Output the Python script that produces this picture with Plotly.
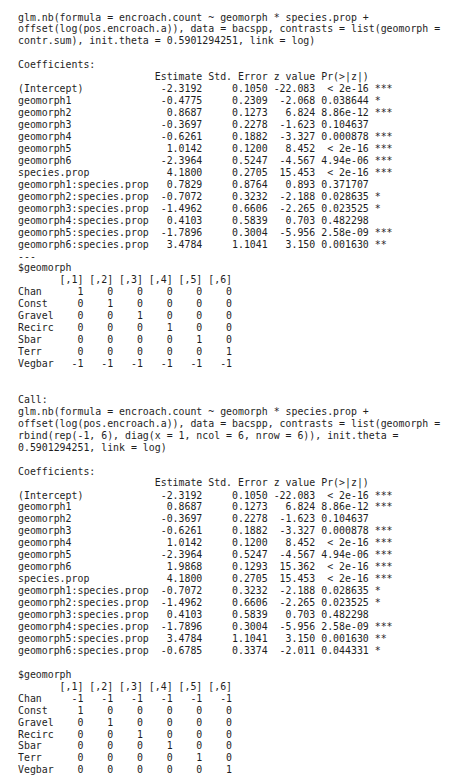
import plotly.graph_objects as go

call1 = [
    "glm.nb(formula = encroach.count ~ geomorph * species.prop +",
    "offset(log(pos.encroach.a)), data = bacspp, contrasts = list(geomorph =",
    "contr.sum), init.theta = 0.5901294251, link = log)",
]
call2 = [
    "glm.nb(formula = encroach.count ~ geomorph * species.prop +",
    "offset(log(pos.encroach.a)), data = bacspp, contrasts = list(geomorph =",
    "rbind(rep(-1, 6), diag(x = 1, ncol = 6, nrow = 6)), init.theta =",
    "0.5901294251, link = log)",
]

terms1 = ["(Intercept)", "geomorph1", "geomorph2", "geomorph3", "geomorph4", "geomorph5",
          "geomorph6", "species.prop", "geomorph1:species.prop", "geomorph2:species.prop",
          "geomorph3:species.prop", "geomorph4:species.prop", "geomorph5:species.prop",
          "geomorph6:species.prop"]
est1 = ["-2.3192", "-0.4775", "0.8687", "-0.3697", "-0.6261", "1.0142", "-2.3964", "4.1800",
        "0.7829", "-0.7072", "-1.4962", "0.4103", "-1.7896", "3.4784"]
se1 = ["0.1050", "0.2309", "0.1273", "0.2278", "0.1882", "0.1200", "0.5247", "0.2705",
       "0.8764", "0.3232", "0.6606", "0.5839", "0.3004", "1.1041"]
z1 = ["-22.083", "-2.068", "6.824", "-1.623", "-3.327", "8.452", "-4.567", "15.453",
      "0.893", "-2.188", "-2.265", "0.703", "-5.956", "3.150"]
p1 = ["< 2e-16", "0.038644", "8.86e-12", "0.104637", "0.000878", "< 2e-16", "4.94e-06",
      "< 2e-16", "0.371707", "0.028635", "0.023525", "0.482298", "2.58e-09", "0.001630"]
sig1 = ["***", "*", "***", "", "***", "***", "***", "***", "", "*", "*", "", "***", "**"]

terms2 = ["(Intercept)", "geomorph1", "geomorph2", "geomorph3", "geomorph4", "geomorph5",
          "geomorph6", "species.prop", "geomorph1:species.prop", "geomorph2:species.prop",
          "geomorph3:species.prop", "geomorph4:species.prop", "geomorph5:species.prop",
          "geomorph6:species.prop"]
est2 = ["-2.3192", "0.8687", "-0.3697", "-0.6261", "1.0142", "-2.3964", "1.9868", "4.1800",
        "-0.7072", "-1.4962", "0.4103", "-1.7896", "3.4784", "-0.6785"]
se2 = ["0.1050", "0.1273", "0.2278", "0.1882", "0.1200", "0.5247", "0.1293", "0.2705",
       "0.3232", "0.6606", "0.5839", "0.3004", "1.1041", "0.3374"]
z2 = ["-22.083", "6.824", "-1.623", "-3.327", "8.452", "-4.567", "15.362", "15.453",
      "-2.188", "-2.265", "0.703", "-5.956", "3.150", "-2.011"]
p2 = ["< 2e-16", "8.86e-12", "0.104637", "0.000878", "< 2e-16", "4.94e-06", "< 2e-16",
      "< 2e-16", "0.028635", "0.023525", "0.482298", "2.58e-09", "0.001630", "0.044331"]
sig2 = ["***", "***", "", "***", "***", "***", "***", "***", "*", "*", "", "***", "**", "*"]

levels = ["Chan", "Const", "Gravel", "Recirc", "Sbar", "Terr", "Vegbar"]
contr1 = [[1, 0, 0, 0, 0, 0], [0, 1, 0, 0, 0, 0], [0, 0, 1, 0, 0, 0], [0, 0, 0, 1, 0, 0],
          [0, 0, 0, 0, 1, 0], [0, 0, 0, 0, 0, 1], [-1, -1, -1, -1, -1, -1]]
contr2 = [[-1, -1, -1, -1, -1, -1], [1, 0, 0, 0, 0, 0], [0, 1, 0, 0, 0, 0], [0, 0, 1, 0, 0, 0],
          [0, 0, 0, 1, 0, 0], [0, 0, 0, 0, 1, 0], [0, 0, 0, 0, 0, 1]]


def coef_lines(terms, est, se, z, p, sig):
    out = ["Coefficients:",
           " " * 22 + " Estimate Std. Error z value Pr(>|z|)"]
    for i in range(len(terms)):
        out.append(f"{terms[i]:<22} {est[i]:>8} {se[i]:>10} {z[i]:>7} {p[i]:>8} {sig[i]}")
    return out


def matrix_lines(m):
    out = ["$geomorph", "      " + "".join(f" [,{j+1}]" for j in range(6))]
    for name, row in zip(levels, m):
        out.append(f"{name:<6}" + "".join(f"{v:>5}" for v in row))
    return out


lines = call1 + [""] + coef_lines(terms1, est1, se1, z1, p1, sig1) + ["---"]
lines += matrix_lines(contr1) + ["", "", "Call:"] + call2 + [""]
lines += coef_lines(terms2, est2, se2, z2, p2, sig2) + [""] + matrix_lines(contr2)

fig = go.Figure()
for i, s in enumerate(lines):
    if not s:
        continue
    fig.add_annotation(x=8, y=9 + i * 11.95, text=s.replace(" ", "\u00a0"),
                       xanchor="left", yanchor="middle", showarrow=False,
                       font=dict(family="DejaVu Sans Mono", size=9.9, color="#1e1e1e"))

fig.update_xaxes(visible=False, range=[0, 474])
fig.update_yaxes(visible=False, range=[775, 0])
fig.update_layout(width=474, height=775, margin=dict(l=0, r=0, t=0, b=0),
                  plot_bgcolor="white", paper_bgcolor="white")
fig.write_html("out.html")
